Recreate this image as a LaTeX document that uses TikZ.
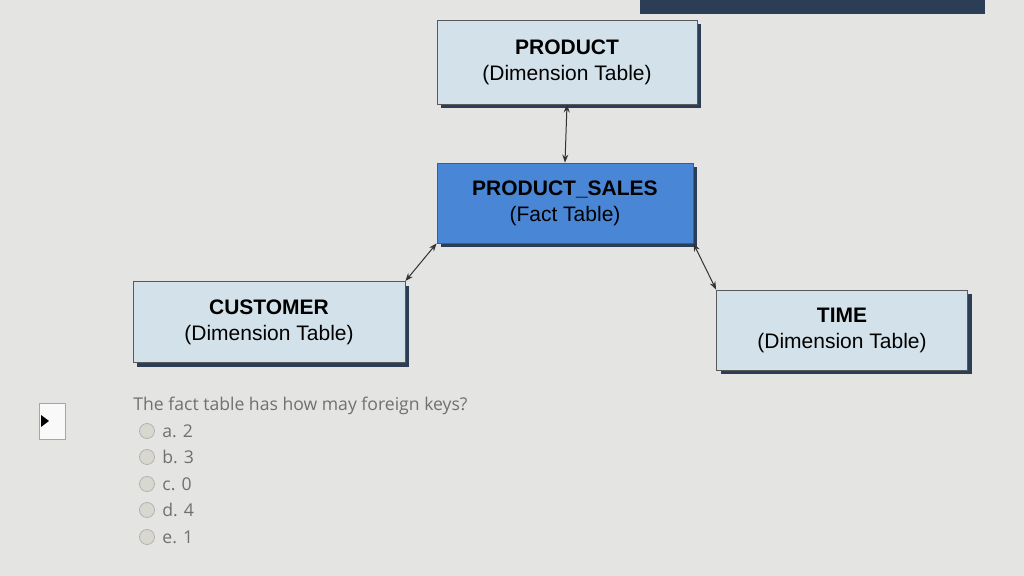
\documentclass[tikz,border=0pt]{standalone}
\usepackage{fontspec}
\setmainfont{Liberation Sans}
\newfontfamily\qfont{Open Sans}
\usetikzlibrary{arrows.meta}
\definecolor{bg}{HTML}{E4E5E2}
\definecolor{lightbox}{HTML}{D3E2EA}
\definecolor{factbox}{HTML}{4A86D6}
\definecolor{shadowc}{HTML}{2C3E55}
\definecolor{qgray}{HTML}{707070}
\definecolor{radio}{HTML}{D8D8D0}
\tikzset{
  tbl/.style={draw=gray!70!black, line width=0.4pt, fill=lightbox, inner sep=0pt, align=center, font=\fontsize{10.5}{13}\selectfont},
  sh/.style={fill=shadowc},
  rel/.style={draw=black!80, line width=0.5pt, {Stealth[length=4pt,width=3pt]}-{Stealth[length=4pt,width=3pt]}},
  qtext/.style={font=\qfont\fontsize{8.8}{10}\selectfont, text=qgray, anchor=west, inner sep=0pt},
  rad/.style={circle, draw=gray!60, fill=radio, minimum size=7.5pt, inner sep=0pt}
}
\begin{document}
\begin{tikzpicture}[x=0.5pt,y=-0.5pt]
\useasboundingbox (0,0) rectangle (1024,576);
\fill[bg] (0,0) rectangle (1024,576);
\fill[shadowc] (640,0) rectangle (985,14);
% shadows
\fill[sh] (441,24) rectangle (701,108);
\fill[sh] (441,167) rectangle (697,247);
\fill[sh] (137,286) rectangle (409,367);
\fill[sh] (721,294) rectangle (972,374);
\node[tbl, minimum width=130pt, minimum height=42pt] (product) at (567,62) {\textbf{PRODUCT}\\(Dimension Table)};
\node[tbl, fill=factbox, minimum width=128pt, minimum height=40pt] (sales) at (565,203) {\textbf{PRODUCT\_SALES}\\(Fact Table)};
\node[tbl, minimum width=136pt, minimum height=40.5pt] (customer) at (269,322) {\textbf{CUSTOMER}\\(Dimension Table)};
\node[tbl, minimum width=125.5pt, minimum height=40pt] (time) at (842,330) {\textbf{TIME}\\(Dimension Table)};
\draw[rel] (product.south) -- (sales.north);
\draw[rel] (customer.north east) -- (sales.south west);
\draw[rel] (sales.south east) -- (time.north west);
% question
\node[draw=gray!70, fill=white!95!gray, minimum width=13pt, minimum height=18pt, inner sep=0pt] (play) at (52,421) {};
\fill[black] (41,415) -- (49,421) -- (41,427) -- cycle;
\node[qtext] (q) at (133,406) {The fact table has how may foreign keys?};
\foreach \y/\t [count=\i] in {431/a. 2, 457/b. 3, 484/c. 0, 510/d. 4, 537/e. 1}{
  \node[rad] (r\i) at (147,\y) {};
  \node[qtext] (o\i) at (162,\y) {\t};
}
\end{tikzpicture}
\end{document}
